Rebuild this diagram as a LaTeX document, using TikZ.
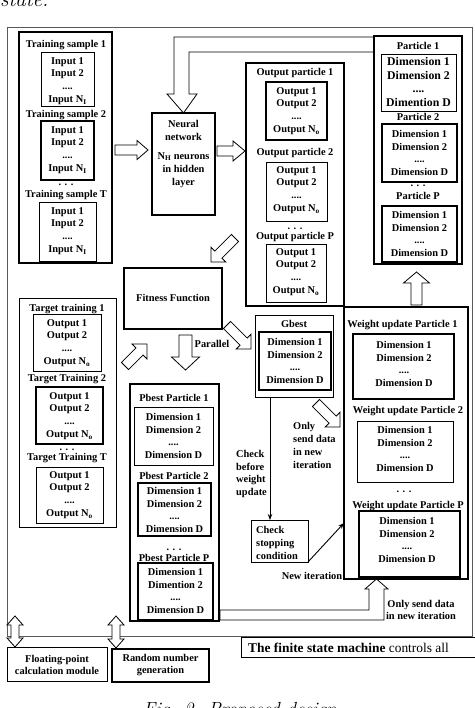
\documentclass[tikz,border=0pt]{standalone}
\usepackage{fontspec}
\newfontfamily\tnr{Liberation Serif}
\usetikzlibrary{calc,arrows.meta}
\tikzset{
  bxs/.style={draw, line width=0.8pt, inner sep=0pt, outer sep=0pt},
  bxt/.style={bxs, line width=1.2pt},
  tx/.style={font=\tnr\bfseries\fontsize{10.4}{12.8}\selectfont, inner sep=0pt, align=center},
  txbig/.style={font=\tnr\bfseries\fontsize{11.8}{13.4}\selectfont, inner sep=0pt, align=center},
  blk/.style={draw, line width=0.8pt, fill=white, line join=miter},
  blkopen/.style={draw, line width=0.8pt, line join=miter},
  thinarr/.style={draw, line width=0.9pt, -{Stealth[length=6pt,width=4.5pt]}},
}
% box from (x1,y1) to (x2,y2), named
\newcommand{\bx}[6][]{\node[bxs,#1,minimum width={(#4)-(#2)},minimum height={(#5)-(#3)}] (#6) at ({((#2)+(#4))/2},{((#3)+(#5))/2}) {};}
% block arrow: tail x, tail y, angle, length, shaft half, head half, head length
\newcommand{\barrow}[7]{\begin{scope}[shift={(#1,#2)}, rotate=#3]
  \draw[blk] (0,#5) -- ({#4-#7},#5) -- ({#4-#7},#6) -- (#4,0) -- ({#4-#7},-#6) -- ({#4-#7},-#5) -- (0,-#5) -- cycle;
\end{scope}}
% vertical double arrow: centre x, top y, bottom y
\newcommand{\dblarrow}[3]{\draw[blk] ({#1-4},{#2+9}) -- ({#1-8},{#2+9}) -- (#1,#2) -- ({#1+8},{#2+9}) -- ({#1+4},{#2+9}) -- ({#1+4},{#3-9}) -- ({#1+8},{#3-9}) -- (#1,#3) -- ({#1-8},{#3-9}) -- ({#1-4},{#3-9}) -- cycle;}
\begin{document}
\begin{tikzpicture}[x=1pt,y=-1pt]
\useasboundingbox (0,0) rectangle (474,708);
\fill[white] (0,0) rectangle (474,708);

% cropped surrounding text
\node[anchor=base west, font=\itshape\fontsize{21}{21}\selectfont, inner sep=0pt] (st) at (0,7) {state.};
\node[anchor=base west, font=\itshape\fontsize{19}{19}\selectfont, inner sep=0pt] (cap) at (143,715) {Fig. 2. Proposed design};

% outer frame
\bx[draw=black!65]{7}{27}{472}{636}{frame}

% ---------- training samples ----------
\bx[bxt]{19}{32}{112}{263}{train}
\node[tx] (tl1) at (66,45) {Training sample 1};
\bx{41}{52}{94}{106}{t1}
\node[tx] (t1t) at (67.5,81) {Input 1\\Input 2\\....\\Input N\textsubscript{I}};
\node[tx] (tl2) at (66,115) {Training sample 2};
\bx[bxt]{41}{121}{94}{180}{t2}
\node[tx] (t2t) at (67.5,150) {Input 1\\Input 2\\....\\Input N\textsubscript{I}};
\node[tx] (td) at (66,185) {. . .};
\node[tx] (tl3) at (66,195) {Training sample T};
\bx{39}{202}{96}{261}{t3}
\node[tx] (t3t) at (67.5,231) {Input 1\\Input 2\\....\\Input N\textsubscript{I}};

% ---------- neural network ----------
\bx[bxt]{152}{113}{215}{215}{nn}
\node[tx] (nnt1) at (183.5,130.5) {Neural\\network};
\node[tx] (nnt2) at (183.5,170) {N\textsubscript{H} neurons\\in hidden\\layer};

% ---------- output particles ----------
\bx[bxt]{246}{63}{344}{306}{outp}
\node[tx] (ol1) at (295,73) {Output particle 1};
\bx[bxt]{266}{82}{327}{140}{o1}
\node[tx] (o1t) at (296.5,111) {Output 1\\Output 2\\....\\Output N\textsubscript{o}};
\node[tx] (ol2) at (295,153) {Output particle 2};
\bx{266}{162}{327}{221}{o2}
\node[tx] (o2t) at (296.5,190) {Output 1\\Output 2\\....\\Output N\textsubscript{o}};
\node[tx] (od) at (295,229) {. . .};
\node[tx] (ol3) at (295,237) {Output particle P};
\bx{266}{244}{326}{302}{o3}
\node[tx] (o3t) at (296,272) {Output 1\\Output 2\\....\\Output N\textsubscript{o}};

% ---------- particles ----------
\bx[bxt]{374}{36}{462}{264}{part}
\node[tx] (pl1) at (418,46) {Particle 1};
\bx{381}{54}{456}{111}{p1}
\node[txbig] (p1t) at (418.5,82) {Dimension 1\\Dimension 2\\....\\Dimention D};
\node[tx] (pl2) at (418,117) {Particle 2};
\bx[bxt]{382}{124}{457}{182}{p2}
\node[tx] (p2t) at (419.5,153) {Dimension 1\\Dimension 2\\....\\Dimension D};
\node[tx] (pd) at (418,186) {. . .};
\node[tx] (pl3) at (418,196) {Particle P};
\bx[bxt]{382}{206}{457}{262}{p3}
\node[tx] (p3t) at (419.5,234) {Dimension 1\\Dimension 2\\....\\Dimension D};

% ---------- fitness ----------
\bx[bxt]{124}{268}{222}{329}{fit}
\node[tx] (fitt) at (173,298) {Fitness Function};
\node[tx] (par) at (212,344) {Parallel};

% ---------- target training ----------
\bx{19}{298}{116}{527}{targ}
\node[tx] (gl1) at (67,309) {Target training 1};
\bx{33}{314}{101}{371}{g1}
\node[tx] (g1t) at (67,343) {Output 1\\Output 2\\....\\Output N\textsubscript{o}};
\node[tx] (gl2) at (67,379) {Target Training 2};
\bx[bxt]{36}{387}{103}{444}{g2}
\node[tx] (g2t) at (69.5,416) {Output 1\\Output 2\\....\\Output N\textsubscript{o}};
\node[tx] (gd) at (67,450) {. . .};
\node[tx] (gl3) at (67,458) {Target Training T};
\bx{36}{467}{103}{523}{g3}
\node[tx] (g3t) at (69.5,495) {Output 1\\Output 2\\....\\Output N\textsubscript{o}};

% ---------- pbest ----------
\bx[bxt]{130}{384}{219}{621}{pbest}
\node[tx] (bl1) at (174,398) {Pbest Particle 1};
\bx{134}{407}{213}{465}{b1}
\node[tx] (b1t) at (173.5,436) {Dimension 1\\Dimension 2\\....\\Dimension D};
\node[tx] (bl2) at (174,476) {Pbest Particle 2};
\bx[bxt]{138}{483}{211}{536}{b2}
\node[tx] (b2t) at (174.5,510) {Dimension 1\\Dimension 2\\....\\Dimension D};
\node[tx] (bd) at (174,550) {. . .};
\node[tx] (bl3) at (174,558) {Pbest Particle P};
\bx[bxt]{138}{563}{213}{620}{b3}
\node[tx] (b3t) at (175.5,591) {Dimension 1\\Dimention 2\\....\\Dimension D};

% ---------- gbest ----------
\bx{255}{315}{333}{397}{gbest}
\node[tx] (gbl) at (294,324) {Gbest};
\bx[bxt]{259}{332}{331}{390}{gb}
\node[tx] (gbt) at (295,361) {Dimension 1\\Dimension 2\\....\\Dimension D};

\node[tx, align=left, anchor=west] (cbw) at (236,474) {Check\\before\\weight\\update};
\node[tx, align=left, anchor=west] (osd) at (293,445.5) {Only\\send data\\in new\\iteration};

% ---------- check stopping ----------
\bx{251}{520}{308}{562}{chk}
\node[tx, align=left, anchor=west] (chkt) at (256,543) {Check\\stopping\\condition};
\node[tx] (newit) at (312,576) {New iteration};

% ---------- weight update ----------
\bx[bxt]{344}{307}{468}{579}{wu}
\node[tx] (wl1) at (402.5,325) {Weight update Particle 1};
\bx[bxt]{353}{334}{454}{399}{w1}
\node[tx] (w1t) at (404,364) {Dimension 1\\Dimension 2\\....\\Dimension D};
\node[tx] (wl2) at (408,411) {Weight update Particle 2};
\bx{357}{421}{453}{482}{w2}
\node[tx] (w2t) at (405,449) {Dimension 1\\Dimension 2\\....\\Dimension D};
\node[tx] (wd) at (404,492) {. . .};
\node[tx] (wl3) at (408,506) {Weight update Particle P};
\bx[bxt]{359}{511}{460}{577}{w3}
\node[tx] (w3t) at (407,540) {Dimension 1\\Dimension 2\\....\\Dimension D};

\node[tx] (osd2) at (421,610) {Only send data\\in new iteration};

% ---------- bottom modules ----------
\bx{7}{647}{107}{681}{fp}
\node[tx] (fpt) at (57,665) {Floating-point\\calculation module};
\bx[bxt]{112}{649}{209}{682}{rng}
\node[tx] (rngt) at (160.5,665) {Random number\\generation};
\bx{241}{637}{478}{657}{fsm}
\node[anchor=west, inner sep=0pt, font=\tnr\fontsize{13.4}{14}\selectfont] (fsmt) at (248,647.5) {\bfseries The finite state machine \mdseries controls all};

% ---------- thin connectors ----------
\coordinate (gs) at ([xshift=15pt]gbest.south west);
\draw[thinarr] (gs) -- (gs |- chk.north);
\coordinate (we) at (wu.west |- 0,523);
\draw[thinarr] (chk.south east) -- (we);

% ---------- block arrows ----------
\barrow{115}{150}{0}{33}{5}{9.5}{11}
\barrow{217}{151}{0}{28}{5}{10}{12}
\barrow{235}{238}{-135}{34}{5}{10.5}{10.5}
\barrow{125}{366}{45}{31}{5}{10.5}{10.5}
\barrow{185.5}{335}{-90}{35}{6.5}{14}{13}
\barrow{227}{325}{-45}{34}{5}{10.5}{10.5}
\barrow{316}{403}{-45}{34}{5}{10.5}{10.5}
\barrow{416.5}{305}{90}{33}{5.5}{13}{11}

% top feedback (particles -> neural network)
\draw[blkopen] (part.west |- 0,37) -- (174,37) -- (174,94) -- (167,94) -- (nn.north) -- (197,94) -- (189,94) -- (189,52) -- (part.west |- 0,52);
% bottom feedback (pbest -> weight update)
\draw[blkopen] (220,610) -- (369,610) -- (369,589) -- (365,589) -- (wu.south -| 376.5,0) -- (388,589) -- (384,589) -- (384,620) -- (220,620) -- cycle;

% double arrows to modules
\dblarrow{15}{616}{647}
\dblarrow{116}{616}{648}
\end{tikzpicture}
\end{document}
